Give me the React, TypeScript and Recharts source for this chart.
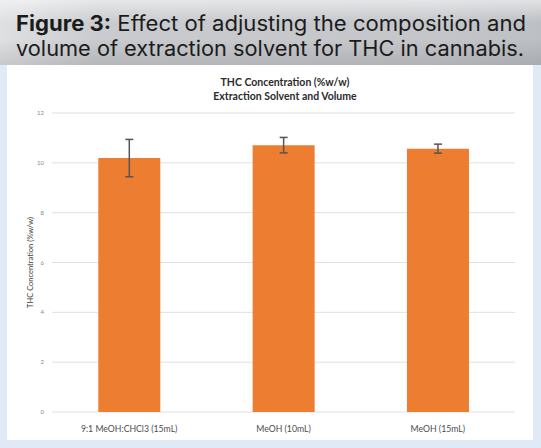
import { Bar, BarChart, CartesianGrid, ErrorBar, XAxis, YAxis } from "recharts";

const categories = ["9:1 MeOH:CHCl3 (15mL)", "MeOH (10mL)", "MeOH (15mL)"];
const thcValues = [10.19, 10.71, 10.57];
const thcErrors = [0.75, 0.31, 0.18];
const yTicks = [0, 2, 4, 6, 8, 10, 12];

const data = categories.map((name, i) => ({ name, thc: thcValues[i], err: thcErrors[i] }));

const headerBg =
  "linear-gradient(to bottom, rgba(255,255,255,0.55) 0%, rgba(255,255,255,0) 35%, rgba(0,0,0,0) 60%, rgba(0,0,0,0.1) 100%), " +
  "linear-gradient(to right, #dfe0e2 0%, #c9cbce 18%, #c4c6ca 80%, #bcbfc3 100%)";

function YLabel({ viewBox }: any) {
  const cx = viewBox.x + 31;
  const cy = viewBox.y + viewBox.height / 2;
  return (
    <text
      x={cx}
      y={cy}
      transform={`rotate(-90 ${cx} ${cy})`}
      textAnchor="middle"
      dominantBaseline="middle"
      fontFamily="Lato, sans-serif"
      fontSize={7.5}
      fill="#404040"
    >
      THC Concentration (%w/w)
    </text>
  );
}

export default function App() {
  return (
    <div style={{ position: "relative", width: 541, height: 448, background: "#e0eaf6", overflow: "hidden" }}>
      <style>{`body{margin:0}`}</style>
      <div style={{ position: "absolute", left: 0, top: 0, width: 541, height: 65, background: headerBg }} />
      <div style={{ position: "absolute", left: 7, top: 65, width: 526, height: 375, background: "#ffffff" }} />
      <svg width={541} height={448} style={{ position: "absolute", left: 0, top: 0 }}>
        <g fontFamily="Inter, 'Open Sans', sans-serif" fontSize={21} fill="#1b1b1b">
          <text x={16} y={31} textLength={510} lengthAdjust="spacingAndGlyphs">
            <tspan fontWeight={700}>Figure 3:</tspan> Effect of adjusting the composition and
          </text>
          <text x={16} y={56} textLength={508} lengthAdjust="spacingAndGlyphs">
            volume of extraction solvent for THC in cannabis.
          </text>
        </g>
        <g fontFamily="Lato, sans-serif" fontWeight={700} fontSize={10.5} fill="#2b2b2b" textAnchor="middle">
          <text x={285} y={86}>THC Concentration (%w/w)</text>
          <text x={285} y={100}>Extraction Solvent and Volume</text>
        </g>
      </svg>
      <div style={{ position: "absolute", left: 0, top: 0 }}>
        <BarChart
          width={541}
          height={448}
          data={data}
          margin={{ top: 113, right: 26, bottom: 6, left: 0 }}
          barCategoryGap="30%"
        >
          <CartesianGrid vertical={false} stroke="#e0e0e0" strokeWidth={1} />
          <XAxis
            dataKey="name"
            axisLine={false}
            tickLine={false}
            tickMargin={8}
            height={30}
            tick={{ fontFamily: "Lato, sans-serif", fontSize: 8.7, fill: "#4d4d4d" }}
          />
          <YAxis
            width={52}
            domain={[0, 12]}
            ticks={yTicks}
            axisLine={false}
            tickLine={false}
            tick={{ fontFamily: "Lato, sans-serif", fontSize: 6, fill: "#888" }}
            label={<YLabel />}
          />
          <Bar dataKey="thc" fill="#ed7d31" isAnimationActive={false}>
            <ErrorBar dataKey="err" width={4} stroke="#555" strokeWidth={1.5} direction="y" />
          </Bar>
        </BarChart>
      </div>
    </div>
  );
}
